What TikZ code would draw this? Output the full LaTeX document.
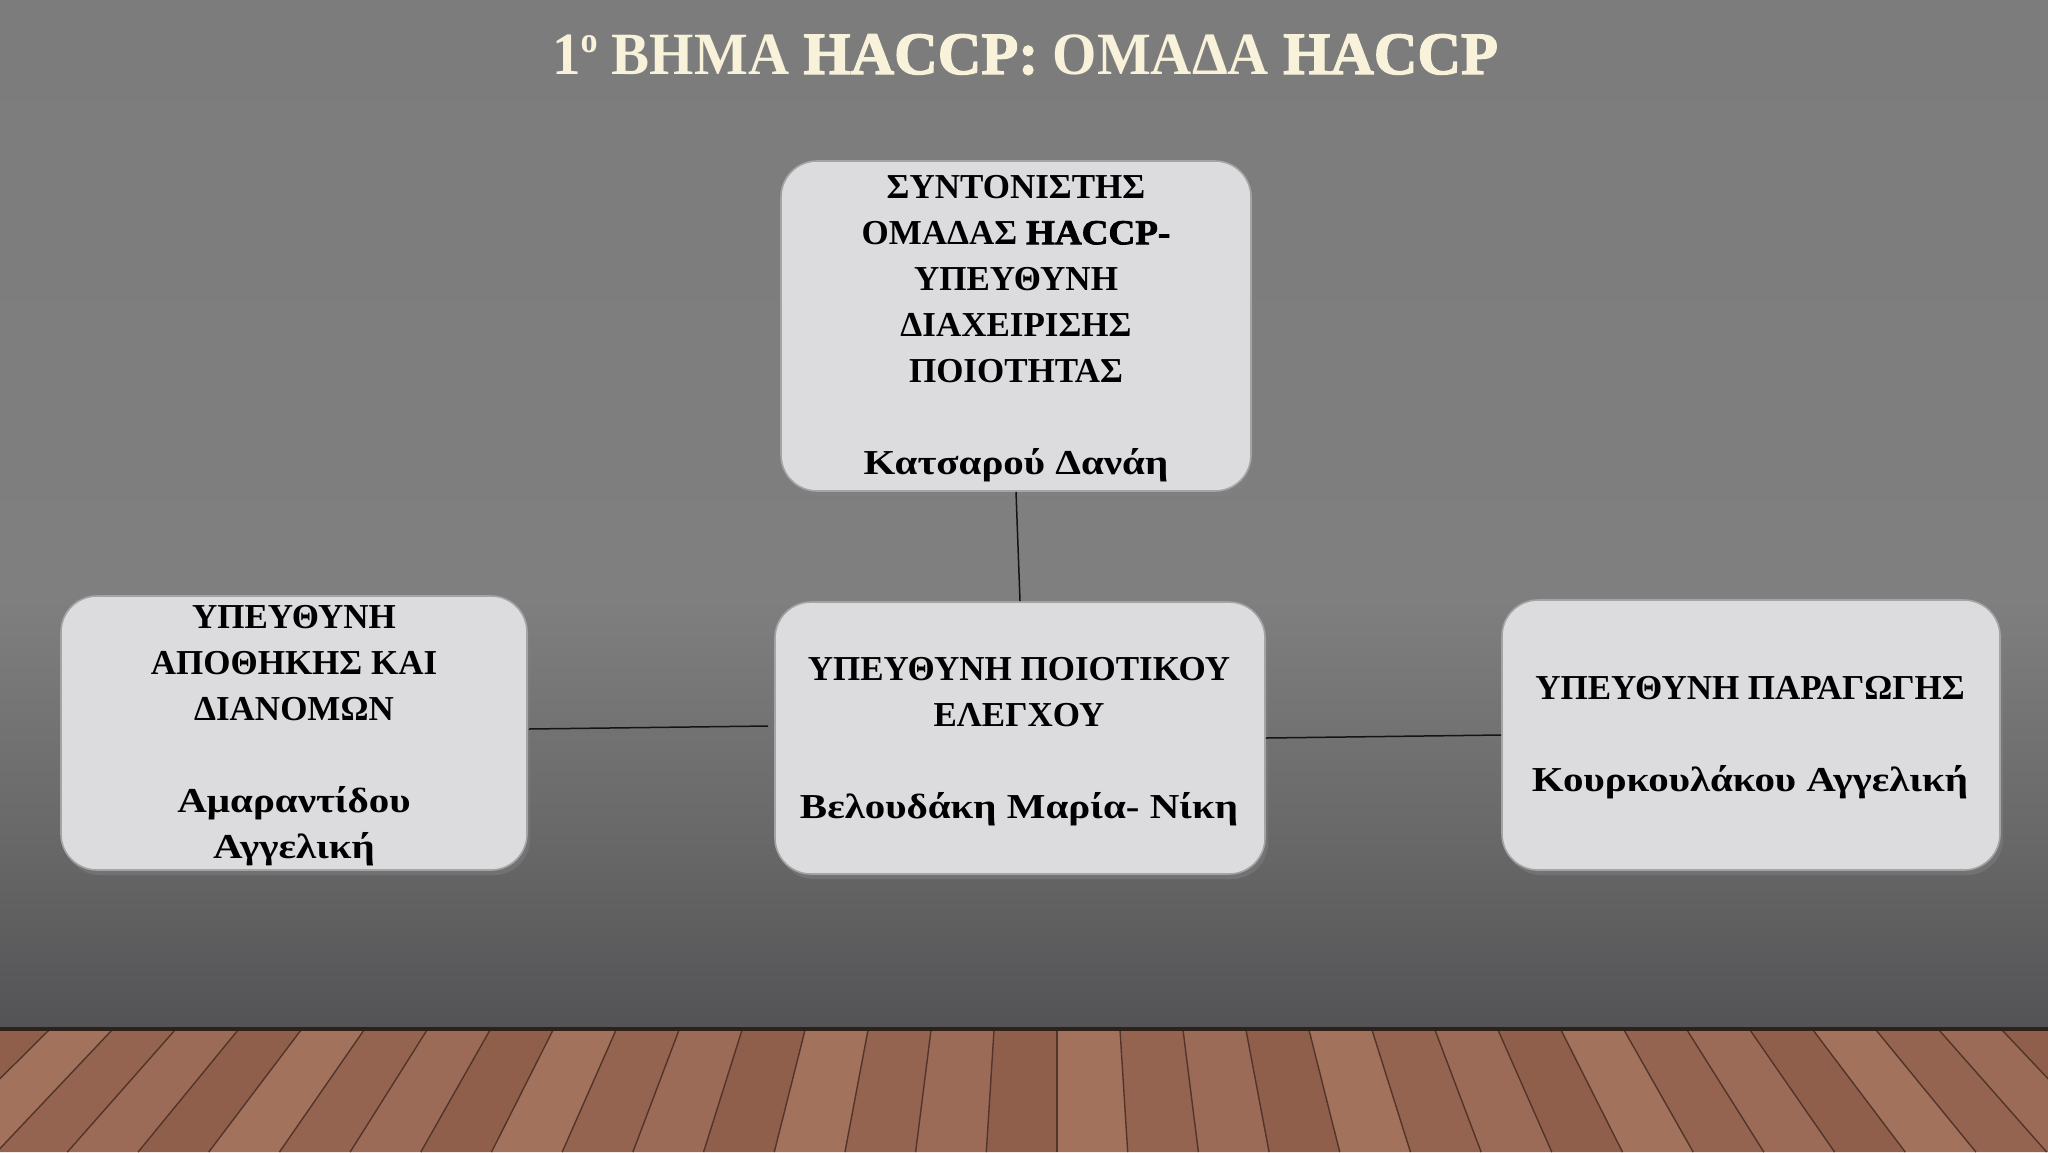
\documentclass[tikz,border=0pt]{standalone}
\usepackage{fontspec}
\setmainfont{Liberation Serif}
\newfontface\haccpfont[FakeBold=2.2,FakeStretch=1.06]{Liberation Serif Bold}
\newfontface\namefont[FakeStretch=1.17]{Liberation Serif Bold}
\usetikzlibrary{shadows,calc}
\definecolor{walltop}{HTML}{7C7C7C}
\definecolor{wallmid}{HTML}{7F7F7F}
\definecolor{wallmidb}{HTML}{676767}
\definecolor{wallbot}{HTML}{535356}
\definecolor{plankA}{HTML}{9C6B57}
\definecolor{plankB}{HTML}{946450}
\definecolor{plankC}{HTML}{A2725D}
\definecolor{plankD}{HTML}{8F5F4C}
\definecolor{plankline}{HTML}{52342A}
\definecolor{baseboard}{HTML}{2E201B}
\definecolor{boxfill}{HTML}{DCDBDE}
\definecolor{boxedge}{HTML}{A4A4A6}
\definecolor{titlecol}{HTML}{F8F2DA}
\pgfdeclareverticalshading{wallshade}{100bp}{color(0bp)=(wallbot); color(25bp)=(wallbot); color(33.75bp)=(wallmidb); color(45.9bp)=(wallmid); color(75bp)=(walltop); color(100bp)=(walltop)}
\tikzset{
  chartbox/.style={draw=boxedge, line width=0.8pt, fill=boxfill, rounded corners=18pt, inner sep=0pt,
    drop shadow={shadow xshift=1.5pt, shadow yshift=-2.5pt, opacity=0.5}},
  boxtext/.style={align=center, font=\fontsize{17.5pt}{23pt}\selectfont\bfseries, text=black, inner sep=0pt},
  link/.style={draw=black!92, line width=0.75pt},
  plankedge/.style={draw=plankline, line width=0.7pt}
}
\begin{document}
\begin{tikzpicture}[x=0.5pt,y=-0.5pt]
\useasboundingbox (0,0) rectangle (2048,1152);
% wall
\shade[shading=wallshade] (0,0) rectangle (2048,1030);
% floor
\begin{scope}
\clip (0,1030) rectangle (2048,1152);
\fill[plankA] (0,1030) rectangle (2048,1152);
\foreach \i in {0,...,37}{
  \pgfmathsetmacro\xa{-140+63*\i}
  \pgfmathsetmacro\xb{\xa+63}
  \pgfmathsetmacro\xc{1057+(\xa-1057)*1.122}
  \pgfmathsetmacro\xd{1057+(\xb-1057)*1.122}
  \pgfmathtruncatemacro\m{mod(\i*3+1,4)}
  \ifcase\m \def\pc{plankA}\or\def\pc{plankB}\or\def\pc{plankC}\or\def\pc{plankD}\fi
  \fill[\pc] (\xa,1030) -- (\xb,1030) -- (\xd,1152) -- (\xc,1152) -- cycle;
  \draw[plankedge] (\xa,1030) -- (\xc,1152);
}
\end{scope}
\fill[baseboard] (0,1027) rectangle (2048,1031);
% title
\node[text=titlecol, inner sep=0pt, anchor=base] (title) at (1025,74)
  {\resizebox{473pt}{\height}{\fontsize{30pt}{30pt}\selectfont\bfseries
   1\raisebox{0.36em}{\fontsize{18pt}{18pt}\selectfont o} ΒΗΜΑ {\haccpfont\fontsize{30pt}{30pt}\selectfont HACCP:} ΟΜΑΔΑ {\haccpfont\fontsize{30pt}{30pt}\selectfont HACCP}}};
% boxes
\node[chartbox, minimum width=235pt, minimum height=165pt] (T) at (1016,326) {};
\node[chartbox, minimum width=245pt, minimum height=136pt] (M) at (1020,738) {};
\node[chartbox, minimum width=233pt, minimum height=137pt] (L) at (294,733) {};
\node[chartbox, minimum width=249pt, minimum height=135pt] (R) at (1751,735) {};
% connectors
\draw[link] (T.south) -- (M.north);
\draw[link] ($(L.east)+(1,-4)$) -- ($(M.west)+(-6,-12)$);
\draw[link] (M.east) -- (R.west);
% texts
\node[boxtext] (Tt) at (1016,327) {\strut ΣΥΝΤΟΝΙΣΤΗΣ\\ ΟΜΑΔΑΣ {\haccpfont\fontsize{17.5pt}{23pt}\selectfont HACCP-}\\ ΥΠΕΥΘΥΝΗ\\ ΔΙΑΧΕΙΡΙΣΗΣ\\ ΠΟΙΟΤΗΤΑΣ\\[23pt] {\namefont Κατσαρού Δανάη}\strut};
\node[boxtext] (Mt) at (1019,740) {\strut ΥΠΕΥΘΥΝΗ ΠΟΙΟΤΙΚΟΥ\\ ΕΛΕΓΧΟΥ\\[23pt] {\namefont Βελουδάκη Μαρία- Νίκη}\strut};
\node[boxtext] (Lt) at (294,734) {\strut ΥΠΕΥΘΥΝΗ\\ ΑΠΟΘΗΚΗΣ ΚΑΙ\\ ΔΙΑΝΟΜΩΝ\\[23pt] {\namefont Αμαραντίδου}\\ {\namefont Αγγελική}\strut};
\node[boxtext] (Rt) at (1750,736) {\strut ΥΠΕΥΘΥΝΗ ΠΑΡΑΓΩΓΗΣ\\[23pt] {\namefont Κουρκουλάκου Αγγελική}\strut};
\end{tikzpicture}
\end{document}
